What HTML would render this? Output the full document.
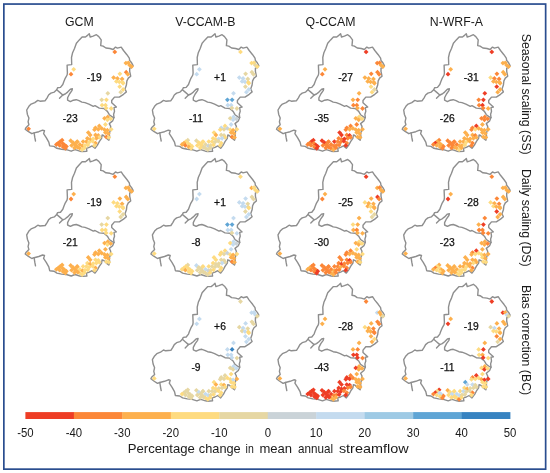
<!DOCTYPE html>
<html><head><meta charset="utf-8"><title>Percentage change in mean annual streamflow</title>
<style>
html,body{margin:0;padding:0;background:#fff;}
body{width:550px;height:473px;overflow:hidden;position:relative;font-family:"Liberation Sans",sans-serif;}
svg{position:absolute;left:0;top:0;display:block;}
text{font-family:"Liberation Sans",sans-serif;fill:#1a1a1a;}
.h{font-size:12.3px;text-anchor:middle;}
.n{font-size:10.3px;text-anchor:middle;fill:#111;stroke:#111;stroke-width:0.25;}
.t{font-size:12.1px;text-anchor:middle;}
.o{fill:none;stroke:#8e8e8e;stroke-width:1.4;stroke-linejoin:round;stroke-linecap:round;}
</style></head><body>
<svg width="550" height="473" viewBox="0 0 550 473">
<rect x="0" y="0" width="550" height="473" fill="#ffffff"/>
<rect x="3.85" y="4.05" width="541.8" height="465.1" fill="none" stroke="#2a4d8f" stroke-width="1.7"/>
<defs>
<g id="m">
<path class="o" d="M56.7,89.7 57.6,87.8 60.5,87.4 62.8,84.5 63.8,81.7 65.2,78.3 67.1,75.0 67.4,73.0 67.1,65.1 71.7,64.6 71.5,57.5 72.6,52.7 74.5,48.5 76.4,43.2 79.3,39.9 82.1,37.0 85.5,37.0 87.8,35.1 89.3,33.7 90.2,37.0 93.1,36.1 96.4,34.7 98.8,36.6 101.2,39.9 100.7,45.6 103.1,46.1 105.9,48.0 110.0,48.5 113.1,49.5 115.5,47.1 117.4,48.1 121.2,47.1 123.5,50.5 126.9,54.7 129.3,58.1 129.7,60.5 131.6,62.8 133.1,65.5 131.6,67.6 129.7,68.1 129.7,71.4 130.7,76.2 128.3,78.1 126.9,80.9 126.4,85.0 125.0,89.0 126.4,91.9 123.5,94.3 119.3,97.1 114.5,97.1 111.7,100.5 111.7,102.8 116.4,107.1 114.0,107.6 114.5,111.4 113.6,114.3 114.0,117.6 112.6,120.9 109.3,123.6 110.7,126.4 110.2,130.7 109.3,133.6 109.7,137.4 108.8,140.2 106.4,138.3 103.5,135.5 102.1,135.0 101.6,138.3 99.3,141.6 97.8,144.5 95.0,148.3 92.1,145.9 89.3,147.4 86.4,148.3 86.9,151.2 82.1,151.6 79.8,151.2 75.0,149.7 71.2,151.2 66.4,149.7 61.6,149.3 56.9,148.3 54.0,146.4 49.7,145.9 48.8,142.1 46.4,137.8 43.6,133.6 44.5,130.7 42.6,130.2 38.8,131.7 34.1,132.9 31.8,133.7 28.1,131.4 25.2,129.2 25.9,127.7 28.9,124.8 28.1,121.8 28.9,118.1 27.4,114.4 26.7,110.0 28.9,106.3 31.1,104.1 34.8,102.6 37.8,100.4 40.0,101.2 45.2,100.7 47.1,97.8 48.6,95.0 50.9,93.1 54.3,92.1Z"/>
<path class="o" d="M56.7,89.7 59.5,92.1 62.8,95.0 65.2,94.0 67.6,92.1 70.4,89.3 72.4,88.8 71.9,90.7 69.5,94.0 67.6,97.8 67.6,100.2 70.4,101.6 73.3,100.2 76.2,99.7 79.0,100.7 81.9,102.1 85.0,102.6 88.9,104.1 93.3,106.3 95.0,105.7 99.3,108.1 104.0,108.5 107.4,111.4 109.3,114.7 112.6,117.1 114.0,117.6"/>
<path class="o" d="M62.8,95.0 59.5,98.3"/>
<path class="o" d="M34.1,132.9 34.8,137.4 35.5,141.0"/>
</g>
<path id="d" d="M0,-2.4L2.4,0L0,2.4L-2.4,0Z"/>
<filter id="b" x="-5%" y="-5%" width="110%" height="110%"><feGaussianBlur stdDeviation="0.38"/></filter>
</defs>
<text class="h" x="79.3" y="26.4">GCM</text>
<text class="h" x="205.3" y="26.4">V-CCAM-B</text>
<text class="h" x="330.5" y="26.4">Q-CCAM</text>
<text class="h" x="456.4" y="26.4">N-WRF-A</text>
<text class="h" transform="translate(521.6,94.2) rotate(90)">Seasonal scaling (SS)</text>
<text class="h" transform="translate(521.6,217.8) rotate(90)">Daily scaling (DS)</text>
<text class="h" transform="translate(521.6,340.1) rotate(90)">Bias correction (BC)</text>
<g transform="translate(0.0,0.0)">
<g filter="url(#b)">
<use href="#m"/>
<use href="#d" x="114.8" y="51.9" fill="#fc8738"/>
<use href="#d" x="125.9" y="63.1" fill="#fdb04e"/>
<use href="#d" x="128.3" y="62.8" fill="#fdb04e"/>
<use href="#d" x="129.7" y="65.2" fill="#fdb04e"/>
<use href="#d" x="131.6" y="66.6" fill="#fdb04e"/>
<use href="#d" x="126.2" y="72.2" fill="#fc8738"/>
<use href="#d" x="127.8" y="74.3" fill="#fdb04e"/>
<use href="#d" x="119.9" y="73.8" fill="#fedb80"/>
<use href="#d" x="113.6" y="77.6" fill="#fdb04e"/>
<use href="#d" x="117.4" y="78.5" fill="#fdb04e"/>
<use href="#d" x="122.1" y="79" fill="#fdb04e"/>
<use href="#d" x="116.4" y="81.4" fill="#fedb80"/>
<use href="#d" x="119.3" y="81.9" fill="#fedb80"/>
<use href="#d" x="122.6" y="82.3" fill="#fedb80"/>
<use href="#d" x="123.1" y="83.3" fill="#fedb80"/>
<use href="#d" x="119.7" y="86.7" fill="#fedb80"/>
<use href="#d" x="123.1" y="89.5" fill="#fedb80"/>
<use href="#d" x="120.7" y="92.2" fill="#e6d7a3"/>
<use href="#d" x="107.8" y="93.3" fill="#e6d7a3"/>
<use href="#d" x="101.7" y="99.8" fill="#e6d7a3"/>
<use href="#d" x="106.4" y="99.8" fill="#fedb80"/>
<use href="#d" x="102.1" y="105.2" fill="#fedb80"/>
<use href="#d" x="105.5" y="105.2" fill="#fedb80"/>
<use href="#d" x="106.2" y="108.1" fill="#fedb80"/>
<use href="#d" x="111.2" y="108.5" fill="#fedb80"/>
<use href="#d" x="107.8" y="116.9" fill="#fdb04e"/>
<use href="#d" x="104.5" y="118.3" fill="#fdb04e"/>
<use href="#d" x="107.4" y="119.8" fill="#fedb80"/>
<use href="#d" x="110.7" y="118.8" fill="#fedb80"/>
<use href="#d" x="105.4" y="124.5" fill="#fedb80"/>
<use href="#d" x="99.3" y="125.9" fill="#fdb04e"/>
<use href="#d" x="95.5" y="127.8" fill="#fdb04e"/>
<use href="#d" x="94.5" y="129.7" fill="#fdb04e"/>
<use href="#d" x="98.3" y="129.3" fill="#fdb04e"/>
<use href="#d" x="101.6" y="128.3" fill="#fdb04e"/>
<use href="#d" x="104.5" y="129.7" fill="#fdb04e"/>
<use href="#d" x="107.4" y="130.2" fill="#fdb04e"/>
<use href="#d" x="111.2" y="129.3" fill="#fedb80"/>
<use href="#d" x="105.4" y="132.6" fill="#fdb04e"/>
<use href="#d" x="108.3" y="133.6" fill="#fdb04e"/>
<use href="#d" x="106.4" y="136.9" fill="#fc8738"/>
<use href="#d" x="108.8" y="137.4" fill="#fedb80"/>
<use href="#d" x="88.3" y="132.6" fill="#fdb04e"/>
<use href="#d" x="90.2" y="135" fill="#fdb04e"/>
<use href="#d" x="95.5" y="135" fill="#fdb04e"/>
<use href="#d" x="98.3" y="135.5" fill="#fdb04e"/>
<use href="#d" x="99.3" y="137.4" fill="#fedb80"/>
<use href="#d" x="96.4" y="138.3" fill="#fdb04e"/>
<use href="#d" x="87.4" y="138.3" fill="#fdb04e"/>
<use href="#d" x="90.2" y="139.3" fill="#fdb04e"/>
<use href="#d" x="93.1" y="138.8" fill="#fedb80"/>
<use href="#d" x="83.1" y="141.6" fill="#fdb04e"/>
<use href="#d" x="86.4" y="141.6" fill="#fdb04e"/>
<use href="#d" x="89.3" y="142.1" fill="#fedb80"/>
<use href="#d" x="92.6" y="141.2" fill="#fedb80"/>
<use href="#d" x="95.5" y="143.1" fill="#fdb04e"/>
<use href="#d" x="76.9" y="142.1" fill="#fdb04e"/>
<use href="#d" x="79.8" y="144.5" fill="#fdb04e"/>
<use href="#d" x="82.6" y="145.9" fill="#fdb04e"/>
<use href="#d" x="76.9" y="146.4" fill="#fdb04e"/>
<use href="#d" x="79.8" y="148.3" fill="#fdb04e"/>
<use href="#d" x="85" y="145.4" fill="#fedb80"/>
<use href="#d" x="87.8" y="145" fill="#fedb80"/>
<use href="#d" x="82.1" y="149.7" fill="#fedb80"/>
<use href="#d" x="84.5" y="147.8" fill="#fedb80"/>
<use href="#d" x="94.5" y="145.4" fill="#fedb80"/>
<use href="#d" x="62.1" y="140.2" fill="#fc8738"/>
<use href="#d" x="60.2" y="141.6" fill="#fc8738"/>
<use href="#d" x="58.3" y="143.1" fill="#fc8738"/>
<use href="#d" x="56.4" y="144.5" fill="#fc8738"/>
<use href="#d" x="59.7" y="145.4" fill="#fc8738"/>
<use href="#d" x="62.6" y="143.5" fill="#fc8738"/>
<use href="#d" x="64.5" y="145" fill="#fc8738"/>
<use href="#d" x="66.4" y="146.4" fill="#fc8738"/>
<use href="#d" x="63.1" y="146.9" fill="#fc8738"/>
<use href="#d" x="65.4" y="148.3" fill="#fc8738"/>
<use href="#d" x="70.7" y="140.7" fill="#fdb04e"/>
<use href="#d" x="73.1" y="142.6" fill="#fdb04e"/>
<use href="#d" x="71.6" y="145.4" fill="#fdb04e"/>
<use href="#d" x="75" y="144.5" fill="#fdb04e"/>
<use href="#d" x="77.3" y="141.6" fill="#fdb04e"/>
<use href="#d" x="77.8" y="147.4" fill="#fdb04e"/>
<use href="#d" x="74.5" y="147.8" fill="#fdb04e"/>
<use href="#d" x="28.6" y="128.8" fill="#fc8738"/>
<use href="#d" x="73.7" y="69.3" fill="#fedb80"/>
<use href="#d" x="71.0" y="74.2" fill="#fc8738"/>
</g>
<text class="n" x="94.3" y="80.8">-19</text>
<text class="n" x="70.3" y="121.5">-23</text>
</g>
<g transform="translate(125.7,0.0)">
<g filter="url(#b)">
<use href="#m"/>
<use href="#d" x="114.8" y="51.9" fill="#fedb80"/>
<use href="#d" x="125.9" y="63.1" fill="#fedb80"/>
<use href="#d" x="128.3" y="62.8" fill="#fedb80"/>
<use href="#d" x="129.7" y="65.2" fill="#e6d7a3"/>
<use href="#d" x="131.6" y="66.6" fill="#fedb80"/>
<use href="#d" x="126.2" y="72.2" fill="#e6d7a3"/>
<use href="#d" x="127.8" y="74.3" fill="#e6d7a3"/>
<use href="#d" x="119.9" y="73.8" fill="#e6d7a3"/>
<use href="#d" x="113.6" y="77.6" fill="#c4dbef"/>
<use href="#d" x="117.4" y="78.5" fill="#c4dbef"/>
<use href="#d" x="122.1" y="79" fill="#e6d7a3"/>
<use href="#d" x="116.4" y="81.4" fill="#c4dbef"/>
<use href="#d" x="119.3" y="81.9" fill="#c4dbef"/>
<use href="#d" x="122.6" y="82.3" fill="#fedb80"/>
<use href="#d" x="123.1" y="83.3" fill="#fedb80"/>
<use href="#d" x="119.7" y="86.7" fill="#e6d7a3"/>
<use href="#d" x="123.1" y="89.5" fill="#c4dbef"/>
<use href="#d" x="120.7" y="92.2" fill="#c4dbef"/>
<use href="#d" x="107.8" y="93.3" fill="#c4dbef"/>
<use href="#d" x="101.7" y="99.8" fill="#5fa5d5"/>
<use href="#d" x="106.4" y="99.8" fill="#5fa5d5"/>
<use href="#d" x="102.1" y="105.2" fill="#c4dbef"/>
<use href="#d" x="105.5" y="105.2" fill="#c4dbef"/>
<use href="#d" x="106.2" y="108.1" fill="#e6d7a3"/>
<use href="#d" x="111.2" y="108.5" fill="#e6d7a3"/>
<use href="#d" x="107.8" y="116.9" fill="#c4dbef"/>
<use href="#d" x="104.5" y="118.3" fill="#e6d7a3"/>
<use href="#d" x="107.4" y="119.8" fill="#c4dbef"/>
<use href="#d" x="110.7" y="118.8" fill="#cad3d8"/>
<use href="#d" x="105.4" y="124.5" fill="#c4dbef"/>
<use href="#d" x="99.3" y="125.9" fill="#fedb80"/>
<use href="#d" x="95.5" y="127.8" fill="#c4dbef"/>
<use href="#d" x="94.5" y="129.7" fill="#fedb80"/>
<use href="#d" x="98.3" y="129.3" fill="#e6d7a3"/>
<use href="#d" x="101.6" y="128.3" fill="#cad3d8"/>
<use href="#d" x="104.5" y="129.7" fill="#fedb80"/>
<use href="#d" x="107.4" y="130.2" fill="#fdb04e"/>
<use href="#d" x="111.2" y="129.3" fill="#fedb80"/>
<use href="#d" x="105.4" y="132.6" fill="#fdb04e"/>
<use href="#d" x="108.3" y="133.6" fill="#fdb04e"/>
<use href="#d" x="106.4" y="136.9" fill="#fc8738"/>
<use href="#d" x="108.8" y="137.4" fill="#fdb04e"/>
<use href="#d" x="88.3" y="132.6" fill="#fedb80"/>
<use href="#d" x="90.2" y="135" fill="#fdb04e"/>
<use href="#d" x="95.5" y="135" fill="#e6d7a3"/>
<use href="#d" x="98.3" y="135.5" fill="#e6d7a3"/>
<use href="#d" x="99.3" y="137.4" fill="#fedb80"/>
<use href="#d" x="96.4" y="138.3" fill="#c4dbef"/>
<use href="#d" x="87.4" y="138.3" fill="#fedb80"/>
<use href="#d" x="90.2" y="139.3" fill="#fedb80"/>
<use href="#d" x="93.1" y="138.8" fill="#c4dbef"/>
<use href="#d" x="83.1" y="141.6" fill="#fedb80"/>
<use href="#d" x="86.4" y="141.6" fill="#fedb80"/>
<use href="#d" x="89.3" y="142.1" fill="#e6d7a3"/>
<use href="#d" x="92.6" y="141.2" fill="#e6d7a3"/>
<use href="#d" x="95.5" y="143.1" fill="#fedb80"/>
<use href="#d" x="76.9" y="142.1" fill="#fedb80"/>
<use href="#d" x="79.8" y="144.5" fill="#e6d7a3"/>
<use href="#d" x="82.6" y="145.9" fill="#cad3d8"/>
<use href="#d" x="76.9" y="146.4" fill="#fedb80"/>
<use href="#d" x="79.8" y="148.3" fill="#e6d7a3"/>
<use href="#d" x="85" y="145.4" fill="#e6d7a3"/>
<use href="#d" x="87.8" y="145" fill="#fedb80"/>
<use href="#d" x="82.1" y="149.7" fill="#e6d7a3"/>
<use href="#d" x="84.5" y="147.8" fill="#e6d7a3"/>
<use href="#d" x="94.5" y="145.4" fill="#fedb80"/>
<use href="#d" x="62.1" y="140.2" fill="#e6d7a3"/>
<use href="#d" x="60.2" y="141.6" fill="#fedb80"/>
<use href="#d" x="58.3" y="143.1" fill="#fdb04e"/>
<use href="#d" x="56.4" y="144.5" fill="#fdb04e"/>
<use href="#d" x="59.7" y="145.4" fill="#fc8738"/>
<use href="#d" x="62.6" y="143.5" fill="#fedb80"/>
<use href="#d" x="64.5" y="145" fill="#fedb80"/>
<use href="#d" x="66.4" y="146.4" fill="#fedb80"/>
<use href="#d" x="63.1" y="146.9" fill="#fdb04e"/>
<use href="#d" x="65.4" y="148.3" fill="#fedb80"/>
<use href="#d" x="70.7" y="140.7" fill="#e6d7a3"/>
<use href="#d" x="73.1" y="142.6" fill="#fedb80"/>
<use href="#d" x="71.6" y="145.4" fill="#fedb80"/>
<use href="#d" x="75" y="144.5" fill="#fedb80"/>
<use href="#d" x="77.3" y="141.6" fill="#fedb80"/>
<use href="#d" x="77.8" y="147.4" fill="#e6d7a3"/>
<use href="#d" x="74.5" y="147.8" fill="#fedb80"/>
<use href="#d" x="28.6" y="128.8" fill="#fedb80"/>
<use href="#d" x="73.7" y="69.3" fill="#c4dbef"/>
<use href="#d" x="71.0" y="74.2" fill="#c4dbef"/>
</g>
<text class="n" x="94.3" y="80.8">+1</text>
<text class="n" x="70.3" y="121.5">-11</text>
</g>
<g transform="translate(251.3,0.0)">
<g filter="url(#b)">
<use href="#m"/>
<use href="#d" x="114.8" y="51.9" fill="#ee3d25"/>
<use href="#d" x="125.9" y="63.1" fill="#fc8738"/>
<use href="#d" x="128.3" y="62.8" fill="#fc8738"/>
<use href="#d" x="129.7" y="65.2" fill="#fdb04e"/>
<use href="#d" x="131.6" y="66.6" fill="#fdb04e"/>
<use href="#d" x="126.2" y="72.2" fill="#fc8738"/>
<use href="#d" x="127.8" y="74.3" fill="#fc8738"/>
<use href="#d" x="119.9" y="73.8" fill="#fc8738"/>
<use href="#d" x="113.6" y="77.6" fill="#fdb04e"/>
<use href="#d" x="117.4" y="78.5" fill="#fdb04e"/>
<use href="#d" x="122.1" y="79" fill="#fdb04e"/>
<use href="#d" x="116.4" y="81.4" fill="#fdb04e"/>
<use href="#d" x="119.3" y="81.9" fill="#fdb04e"/>
<use href="#d" x="122.6" y="82.3" fill="#fdb04e"/>
<use href="#d" x="123.1" y="83.3" fill="#fdb04e"/>
<use href="#d" x="119.7" y="86.7" fill="#fedb80"/>
<use href="#d" x="123.1" y="89.5" fill="#e6d7a3"/>
<use href="#d" x="120.7" y="92.2" fill="#fedb80"/>
<use href="#d" x="107.8" y="93.3" fill="#fdb04e"/>
<use href="#d" x="101.7" y="99.8" fill="#fdb04e"/>
<use href="#d" x="106.4" y="99.8" fill="#fc8738"/>
<use href="#d" x="102.1" y="105.2" fill="#fc8738"/>
<use href="#d" x="105.5" y="105.2" fill="#fc8738"/>
<use href="#d" x="106.2" y="108.1" fill="#fdb04e"/>
<use href="#d" x="111.2" y="108.5" fill="#fc8738"/>
<use href="#d" x="107.8" y="116.9" fill="#fedb80"/>
<use href="#d" x="104.5" y="118.3" fill="#fdb04e"/>
<use href="#d" x="107.4" y="119.8" fill="#fdb04e"/>
<use href="#d" x="110.7" y="118.8" fill="#fedb80"/>
<use href="#d" x="105.4" y="124.5" fill="#fc8738"/>
<use href="#d" x="99.3" y="125.9" fill="#fc8738"/>
<use href="#d" x="95.5" y="127.8" fill="#fc8738"/>
<use href="#d" x="94.5" y="129.7" fill="#fc8738"/>
<use href="#d" x="98.3" y="129.3" fill="#fdb04e"/>
<use href="#d" x="101.6" y="128.3" fill="#fdb04e"/>
<use href="#d" x="104.5" y="129.7" fill="#fdb04e"/>
<use href="#d" x="107.4" y="130.2" fill="#fdb04e"/>
<use href="#d" x="111.2" y="129.3" fill="#fdb04e"/>
<use href="#d" x="105.4" y="132.6" fill="#fdb04e"/>
<use href="#d" x="108.3" y="133.6" fill="#fdb04e"/>
<use href="#d" x="106.4" y="136.9" fill="#fdb04e"/>
<use href="#d" x="108.8" y="137.4" fill="#fdb04e"/>
<use href="#d" x="88.3" y="132.6" fill="#ee3d25"/>
<use href="#d" x="90.2" y="135" fill="#ee3d25"/>
<use href="#d" x="95.5" y="135" fill="#fc8738"/>
<use href="#d" x="98.3" y="135.5" fill="#ee3d25"/>
<use href="#d" x="99.3" y="137.4" fill="#fc8738"/>
<use href="#d" x="96.4" y="138.3" fill="#fc8738"/>
<use href="#d" x="87.4" y="138.3" fill="#fc8738"/>
<use href="#d" x="90.2" y="139.3" fill="#fc8738"/>
<use href="#d" x="93.1" y="138.8" fill="#ee3d25"/>
<use href="#d" x="83.1" y="141.6" fill="#ee3d25"/>
<use href="#d" x="86.4" y="141.6" fill="#fc8738"/>
<use href="#d" x="89.3" y="142.1" fill="#fc8738"/>
<use href="#d" x="92.6" y="141.2" fill="#ee3d25"/>
<use href="#d" x="95.5" y="143.1" fill="#fc8738"/>
<use href="#d" x="76.9" y="142.1" fill="#fc8738"/>
<use href="#d" x="79.8" y="144.5" fill="#fc8738"/>
<use href="#d" x="82.6" y="145.9" fill="#fc8738"/>
<use href="#d" x="76.9" y="146.4" fill="#fc8738"/>
<use href="#d" x="79.8" y="148.3" fill="#fc8738"/>
<use href="#d" x="85" y="145.4" fill="#fc8738"/>
<use href="#d" x="87.8" y="145" fill="#fc8738"/>
<use href="#d" x="82.1" y="149.7" fill="#fdb04e"/>
<use href="#d" x="84.5" y="147.8" fill="#fc8738"/>
<use href="#d" x="94.5" y="145.4" fill="#ee3d25"/>
<use href="#d" x="62.1" y="140.2" fill="#ee3d25"/>
<use href="#d" x="60.2" y="141.6" fill="#ee3d25"/>
<use href="#d" x="58.3" y="143.1" fill="#fc8738"/>
<use href="#d" x="56.4" y="144.5" fill="#fc8738"/>
<use href="#d" x="59.7" y="145.4" fill="#fc8738"/>
<use href="#d" x="62.6" y="143.5" fill="#fc8738"/>
<use href="#d" x="64.5" y="145" fill="#ee3d25"/>
<use href="#d" x="66.4" y="146.4" fill="#ee3d25"/>
<use href="#d" x="63.1" y="146.9" fill="#fc8738"/>
<use href="#d" x="65.4" y="148.3" fill="#ee3d25"/>
<use href="#d" x="70.7" y="140.7" fill="#ee3d25"/>
<use href="#d" x="73.1" y="142.6" fill="#ee3d25"/>
<use href="#d" x="71.6" y="145.4" fill="#fc8738"/>
<use href="#d" x="75" y="144.5" fill="#fc8738"/>
<use href="#d" x="77.3" y="141.6" fill="#fc8738"/>
<use href="#d" x="77.8" y="147.4" fill="#fc8738"/>
<use href="#d" x="74.5" y="147.8" fill="#fc8738"/>
<use href="#d" x="28.6" y="128.8" fill="#fdb04e"/>
<use href="#d" x="73.7" y="69.3" fill="#fdb04e"/>
<use href="#d" x="71.0" y="74.2" fill="#fc8738"/>
</g>
<text class="n" x="94.3" y="80.8">-27</text>
<text class="n" x="70.3" y="121.5">-35</text>
</g>
<g transform="translate(377.0,0.0)">
<g filter="url(#b)">
<use href="#m"/>
<use href="#d" x="114.8" y="51.9" fill="#ee3d25"/>
<use href="#d" x="125.9" y="63.1" fill="#fdb04e"/>
<use href="#d" x="128.3" y="62.8" fill="#fdb04e"/>
<use href="#d" x="129.7" y="65.2" fill="#fdb04e"/>
<use href="#d" x="131.6" y="66.6" fill="#fdb04e"/>
<use href="#d" x="126.2" y="72.2" fill="#fdb04e"/>
<use href="#d" x="127.8" y="74.3" fill="#fdb04e"/>
<use href="#d" x="119.9" y="73.8" fill="#fc8738"/>
<use href="#d" x="113.6" y="77.6" fill="#fedb80"/>
<use href="#d" x="117.4" y="78.5" fill="#fc8738"/>
<use href="#d" x="122.1" y="79" fill="#fc8738"/>
<use href="#d" x="116.4" y="81.4" fill="#fdb04e"/>
<use href="#d" x="119.3" y="81.9" fill="#fdb04e"/>
<use href="#d" x="122.6" y="82.3" fill="#fdb04e"/>
<use href="#d" x="123.1" y="83.3" fill="#fdb04e"/>
<use href="#d" x="119.7" y="86.7" fill="#ee3d25"/>
<use href="#d" x="123.1" y="89.5" fill="#fdb04e"/>
<use href="#d" x="120.7" y="92.2" fill="#fdb04e"/>
<use href="#d" x="107.8" y="93.3" fill="#ee3d25"/>
<use href="#d" x="101.7" y="99.8" fill="#fc8738"/>
<use href="#d" x="106.4" y="99.8" fill="#ee3d25"/>
<use href="#d" x="102.1" y="105.2" fill="#fc8738"/>
<use href="#d" x="105.5" y="105.2" fill="#ee3d25"/>
<use href="#d" x="106.2" y="108.1" fill="#fc8738"/>
<use href="#d" x="111.2" y="108.5" fill="#fdb04e"/>
<use href="#d" x="107.8" y="116.9" fill="#fc8738"/>
<use href="#d" x="104.5" y="118.3" fill="#fc8738"/>
<use href="#d" x="107.4" y="119.8" fill="#fc8738"/>
<use href="#d" x="110.7" y="118.8" fill="#fc8738"/>
<use href="#d" x="105.4" y="124.5" fill="#fdb04e"/>
<use href="#d" x="99.3" y="125.9" fill="#ee3d25"/>
<use href="#d" x="95.5" y="127.8" fill="#fc8738"/>
<use href="#d" x="94.5" y="129.7" fill="#fc8738"/>
<use href="#d" x="98.3" y="129.3" fill="#fedb80"/>
<use href="#d" x="101.6" y="128.3" fill="#fdb04e"/>
<use href="#d" x="104.5" y="129.7" fill="#fdb04e"/>
<use href="#d" x="107.4" y="130.2" fill="#fdb04e"/>
<use href="#d" x="111.2" y="129.3" fill="#fdb04e"/>
<use href="#d" x="105.4" y="132.6" fill="#fdb04e"/>
<use href="#d" x="108.3" y="133.6" fill="#fdb04e"/>
<use href="#d" x="106.4" y="136.9" fill="#fdb04e"/>
<use href="#d" x="108.8" y="137.4" fill="#fdb04e"/>
<use href="#d" x="88.3" y="132.6" fill="#fdb04e"/>
<use href="#d" x="90.2" y="135" fill="#fdb04e"/>
<use href="#d" x="95.5" y="135" fill="#fdb04e"/>
<use href="#d" x="98.3" y="135.5" fill="#fc8738"/>
<use href="#d" x="99.3" y="137.4" fill="#fdb04e"/>
<use href="#d" x="96.4" y="138.3" fill="#fdb04e"/>
<use href="#d" x="87.4" y="138.3" fill="#fdb04e"/>
<use href="#d" x="90.2" y="139.3" fill="#fdb04e"/>
<use href="#d" x="93.1" y="138.8" fill="#fdb04e"/>
<use href="#d" x="83.1" y="141.6" fill="#fdb04e"/>
<use href="#d" x="86.4" y="141.6" fill="#fdb04e"/>
<use href="#d" x="89.3" y="142.1" fill="#fedb80"/>
<use href="#d" x="92.6" y="141.2" fill="#fdb04e"/>
<use href="#d" x="95.5" y="143.1" fill="#fc8738"/>
<use href="#d" x="76.9" y="142.1" fill="#fc8738"/>
<use href="#d" x="79.8" y="144.5" fill="#fc8738"/>
<use href="#d" x="82.6" y="145.9" fill="#fdb04e"/>
<use href="#d" x="76.9" y="146.4" fill="#fc8738"/>
<use href="#d" x="79.8" y="148.3" fill="#fdb04e"/>
<use href="#d" x="85" y="145.4" fill="#fdb04e"/>
<use href="#d" x="87.8" y="145" fill="#fedb80"/>
<use href="#d" x="82.1" y="149.7" fill="#fedb80"/>
<use href="#d" x="84.5" y="147.8" fill="#fdb04e"/>
<use href="#d" x="94.5" y="145.4" fill="#fc8738"/>
<use href="#d" x="62.1" y="140.2" fill="#fc8738"/>
<use href="#d" x="60.2" y="141.6" fill="#fdb04e"/>
<use href="#d" x="58.3" y="143.1" fill="#ee3d25"/>
<use href="#d" x="56.4" y="144.5" fill="#fc8738"/>
<use href="#d" x="59.7" y="145.4" fill="#fdb04e"/>
<use href="#d" x="62.6" y="143.5" fill="#fdb04e"/>
<use href="#d" x="64.5" y="145" fill="#fdb04e"/>
<use href="#d" x="66.4" y="146.4" fill="#fc8738"/>
<use href="#d" x="63.1" y="146.9" fill="#fdb04e"/>
<use href="#d" x="65.4" y="148.3" fill="#fc8738"/>
<use href="#d" x="70.7" y="140.7" fill="#fc8738"/>
<use href="#d" x="73.1" y="142.6" fill="#fc8738"/>
<use href="#d" x="71.6" y="145.4" fill="#fc8738"/>
<use href="#d" x="75" y="144.5" fill="#fc8738"/>
<use href="#d" x="77.3" y="141.6" fill="#fc8738"/>
<use href="#d" x="77.8" y="147.4" fill="#fdb04e"/>
<use href="#d" x="74.5" y="147.8" fill="#fc8738"/>
<use href="#d" x="28.6" y="128.8" fill="#fdb04e"/>
<use href="#d" x="73.7" y="69.3" fill="#fdb04e"/>
<use href="#d" x="71.0" y="74.2" fill="#ee3d25"/>
</g>
<text class="n" x="94.3" y="80.8">-31</text>
<text class="n" x="70.3" y="121.5">-26</text>
</g>
<g transform="translate(0.0,124.8)">
<g filter="url(#b)">
<use href="#m"/>
<use href="#d" x="114.8" y="51.9" fill="#fc8738"/>
<use href="#d" x="125.9" y="63.1" fill="#fdb04e"/>
<use href="#d" x="128.3" y="62.8" fill="#fdb04e"/>
<use href="#d" x="129.7" y="65.2" fill="#fdb04e"/>
<use href="#d" x="131.6" y="66.6" fill="#fdb04e"/>
<use href="#d" x="126.2" y="72.2" fill="#fdb04e"/>
<use href="#d" x="127.8" y="74.3" fill="#fdb04e"/>
<use href="#d" x="119.9" y="73.8" fill="#fdb04e"/>
<use href="#d" x="113.6" y="77.6" fill="#fedb80"/>
<use href="#d" x="117.4" y="78.5" fill="#fedb80"/>
<use href="#d" x="122.1" y="79" fill="#fdb04e"/>
<use href="#d" x="116.4" y="81.4" fill="#fedb80"/>
<use href="#d" x="119.3" y="81.9" fill="#fedb80"/>
<use href="#d" x="122.6" y="82.3" fill="#fedb80"/>
<use href="#d" x="123.1" y="83.3" fill="#fedb80"/>
<use href="#d" x="119.7" y="86.7" fill="#fedb80"/>
<use href="#d" x="123.1" y="89.5" fill="#e6d7a3"/>
<use href="#d" x="120.7" y="92.2" fill="#e6d7a3"/>
<use href="#d" x="107.8" y="93.3" fill="#e6d7a3"/>
<use href="#d" x="101.7" y="99.8" fill="#e6d7a3"/>
<use href="#d" x="106.4" y="99.8" fill="#fedb80"/>
<use href="#d" x="102.1" y="105.2" fill="#fedb80"/>
<use href="#d" x="105.5" y="105.2" fill="#fedb80"/>
<use href="#d" x="106.2" y="108.1" fill="#fedb80"/>
<use href="#d" x="111.2" y="108.5" fill="#fedb80"/>
<use href="#d" x="107.8" y="116.9" fill="#fdb04e"/>
<use href="#d" x="104.5" y="118.3" fill="#fdb04e"/>
<use href="#d" x="107.4" y="119.8" fill="#fedb80"/>
<use href="#d" x="110.7" y="118.8" fill="#fdb04e"/>
<use href="#d" x="105.4" y="124.5" fill="#fdb04e"/>
<use href="#d" x="99.3" y="125.9" fill="#fdb04e"/>
<use href="#d" x="95.5" y="127.8" fill="#fdb04e"/>
<use href="#d" x="94.5" y="129.7" fill="#fdb04e"/>
<use href="#d" x="98.3" y="129.3" fill="#fdb04e"/>
<use href="#d" x="101.6" y="128.3" fill="#fdb04e"/>
<use href="#d" x="104.5" y="129.7" fill="#fdb04e"/>
<use href="#d" x="107.4" y="130.2" fill="#fdb04e"/>
<use href="#d" x="111.2" y="129.3" fill="#fedb80"/>
<use href="#d" x="105.4" y="132.6" fill="#fdb04e"/>
<use href="#d" x="108.3" y="133.6" fill="#fdb04e"/>
<use href="#d" x="106.4" y="136.9" fill="#fedb80"/>
<use href="#d" x="108.8" y="137.4" fill="#fedb80"/>
<use href="#d" x="88.3" y="132.6" fill="#fdb04e"/>
<use href="#d" x="90.2" y="135" fill="#fdb04e"/>
<use href="#d" x="95.5" y="135" fill="#fedb80"/>
<use href="#d" x="98.3" y="135.5" fill="#fedb80"/>
<use href="#d" x="99.3" y="137.4" fill="#fedb80"/>
<use href="#d" x="96.4" y="138.3" fill="#fedb80"/>
<use href="#d" x="87.4" y="138.3" fill="#fedb80"/>
<use href="#d" x="90.2" y="139.3" fill="#fdb04e"/>
<use href="#d" x="93.1" y="138.8" fill="#fedb80"/>
<use href="#d" x="83.1" y="141.6" fill="#fedb80"/>
<use href="#d" x="86.4" y="141.6" fill="#fedb80"/>
<use href="#d" x="89.3" y="142.1" fill="#fedb80"/>
<use href="#d" x="92.6" y="141.2" fill="#fedb80"/>
<use href="#d" x="95.5" y="143.1" fill="#fdb04e"/>
<use href="#d" x="76.9" y="142.1" fill="#fdb04e"/>
<use href="#d" x="79.8" y="144.5" fill="#fedb80"/>
<use href="#d" x="82.6" y="145.9" fill="#fdb04e"/>
<use href="#d" x="76.9" y="146.4" fill="#fdb04e"/>
<use href="#d" x="79.8" y="148.3" fill="#fedb80"/>
<use href="#d" x="85" y="145.4" fill="#fedb80"/>
<use href="#d" x="87.8" y="145" fill="#fedb80"/>
<use href="#d" x="82.1" y="149.7" fill="#fedb80"/>
<use href="#d" x="84.5" y="147.8" fill="#fedb80"/>
<use href="#d" x="94.5" y="145.4" fill="#fedb80"/>
<use href="#d" x="62.1" y="140.2" fill="#fdb04e"/>
<use href="#d" x="60.2" y="141.6" fill="#fdb04e"/>
<use href="#d" x="58.3" y="143.1" fill="#fdb04e"/>
<use href="#d" x="56.4" y="144.5" fill="#fdb04e"/>
<use href="#d" x="59.7" y="145.4" fill="#fdb04e"/>
<use href="#d" x="62.6" y="143.5" fill="#fdb04e"/>
<use href="#d" x="64.5" y="145" fill="#fdb04e"/>
<use href="#d" x="66.4" y="146.4" fill="#fdb04e"/>
<use href="#d" x="63.1" y="146.9" fill="#fdb04e"/>
<use href="#d" x="65.4" y="148.3" fill="#fdb04e"/>
<use href="#d" x="70.7" y="140.7" fill="#fdb04e"/>
<use href="#d" x="73.1" y="142.6" fill="#fdb04e"/>
<use href="#d" x="71.6" y="145.4" fill="#fdb04e"/>
<use href="#d" x="75" y="144.5" fill="#fdb04e"/>
<use href="#d" x="77.3" y="141.6" fill="#fdb04e"/>
<use href="#d" x="77.8" y="147.4" fill="#fdb04e"/>
<use href="#d" x="74.5" y="147.8" fill="#fdb04e"/>
<use href="#d" x="28.6" y="128.8" fill="#fdb04e"/>
<use href="#d" x="73.7" y="69.3" fill="#fdb04e"/>
<use href="#d" x="71.0" y="74.2" fill="#fc8738"/>
</g>
<text class="n" x="94.3" y="80.8">-19</text>
<text class="n" x="70.3" y="121.5">-21</text>
</g>
<g transform="translate(125.7,124.8)">
<g filter="url(#b)">
<use href="#m"/>
<use href="#d" x="114.8" y="51.9" fill="#fedb80"/>
<use href="#d" x="125.9" y="63.1" fill="#fdb04e"/>
<use href="#d" x="128.3" y="62.8" fill="#fedb80"/>
<use href="#d" x="129.7" y="65.2" fill="#fedb80"/>
<use href="#d" x="131.6" y="66.6" fill="#fedb80"/>
<use href="#d" x="126.2" y="72.2" fill="#e6d7a3"/>
<use href="#d" x="127.8" y="74.3" fill="#e6d7a3"/>
<use href="#d" x="119.9" y="73.8" fill="#c4dbef"/>
<use href="#d" x="113.6" y="77.6" fill="#c4dbef"/>
<use href="#d" x="117.4" y="78.5" fill="#c4dbef"/>
<use href="#d" x="122.1" y="79" fill="#e6d7a3"/>
<use href="#d" x="116.4" y="81.4" fill="#c4dbef"/>
<use href="#d" x="119.3" y="81.9" fill="#c4dbef"/>
<use href="#d" x="122.6" y="82.3" fill="#e6d7a3"/>
<use href="#d" x="123.1" y="83.3" fill="#fedb80"/>
<use href="#d" x="119.7" y="86.7" fill="#e6d7a3"/>
<use href="#d" x="123.1" y="89.5" fill="#c4dbef"/>
<use href="#d" x="120.7" y="92.2" fill="#c4dbef"/>
<use href="#d" x="107.8" y="93.3" fill="#c4dbef"/>
<use href="#d" x="101.7" y="99.8" fill="#5fa5d5"/>
<use href="#d" x="106.4" y="99.8" fill="#5fa5d5"/>
<use href="#d" x="102.1" y="105.2" fill="#c4dbef"/>
<use href="#d" x="105.5" y="105.2" fill="#c4dbef"/>
<use href="#d" x="106.2" y="108.1" fill="#e6d7a3"/>
<use href="#d" x="111.2" y="108.5" fill="#c4dbef"/>
<use href="#d" x="107.8" y="116.9" fill="#c4dbef"/>
<use href="#d" x="104.5" y="118.3" fill="#fedb80"/>
<use href="#d" x="107.4" y="119.8" fill="#c4dbef"/>
<use href="#d" x="110.7" y="118.8" fill="#cad3d8"/>
<use href="#d" x="105.4" y="124.5" fill="#c4dbef"/>
<use href="#d" x="99.3" y="125.9" fill="#fedb80"/>
<use href="#d" x="95.5" y="127.8" fill="#fedb80"/>
<use href="#d" x="94.5" y="129.7" fill="#fedb80"/>
<use href="#d" x="98.3" y="129.3" fill="#e6d7a3"/>
<use href="#d" x="101.6" y="128.3" fill="#cad3d8"/>
<use href="#d" x="104.5" y="129.7" fill="#fedb80"/>
<use href="#d" x="107.4" y="130.2" fill="#fdb04e"/>
<use href="#d" x="111.2" y="129.3" fill="#fedb80"/>
<use href="#d" x="105.4" y="132.6" fill="#fdb04e"/>
<use href="#d" x="108.3" y="133.6" fill="#fdb04e"/>
<use href="#d" x="106.4" y="136.9" fill="#fc8738"/>
<use href="#d" x="108.8" y="137.4" fill="#fdb04e"/>
<use href="#d" x="88.3" y="132.6" fill="#fedb80"/>
<use href="#d" x="90.2" y="135" fill="#fedb80"/>
<use href="#d" x="95.5" y="135" fill="#e6d7a3"/>
<use href="#d" x="98.3" y="135.5" fill="#e6d7a3"/>
<use href="#d" x="99.3" y="137.4" fill="#e6d7a3"/>
<use href="#d" x="96.4" y="138.3" fill="#c4dbef"/>
<use href="#d" x="87.4" y="138.3" fill="#fedb80"/>
<use href="#d" x="90.2" y="139.3" fill="#e6d7a3"/>
<use href="#d" x="93.1" y="138.8" fill="#e6d7a3"/>
<use href="#d" x="83.1" y="141.6" fill="#fedb80"/>
<use href="#d" x="86.4" y="141.6" fill="#e6d7a3"/>
<use href="#d" x="89.3" y="142.1" fill="#e6d7a3"/>
<use href="#d" x="92.6" y="141.2" fill="#e6d7a3"/>
<use href="#d" x="95.5" y="143.1" fill="#fedb80"/>
<use href="#d" x="76.9" y="142.1" fill="#e6d7a3"/>
<use href="#d" x="79.8" y="144.5" fill="#c4dbef"/>
<use href="#d" x="82.6" y="145.9" fill="#cad3d8"/>
<use href="#d" x="76.9" y="146.4" fill="#e6d7a3"/>
<use href="#d" x="79.8" y="148.3" fill="#e6d7a3"/>
<use href="#d" x="85" y="145.4" fill="#e6d7a3"/>
<use href="#d" x="87.8" y="145" fill="#fedb80"/>
<use href="#d" x="82.1" y="149.7" fill="#e6d7a3"/>
<use href="#d" x="84.5" y="147.8" fill="#fedb80"/>
<use href="#d" x="94.5" y="145.4" fill="#fedb80"/>
<use href="#d" x="62.1" y="140.2" fill="#e6d7a3"/>
<use href="#d" x="60.2" y="141.6" fill="#fedb80"/>
<use href="#d" x="58.3" y="143.1" fill="#fedb80"/>
<use href="#d" x="56.4" y="144.5" fill="#fedb80"/>
<use href="#d" x="59.7" y="145.4" fill="#fdb04e"/>
<use href="#d" x="62.6" y="143.5" fill="#fedb80"/>
<use href="#d" x="64.5" y="145" fill="#fedb80"/>
<use href="#d" x="66.4" y="146.4" fill="#fedb80"/>
<use href="#d" x="63.1" y="146.9" fill="#fedb80"/>
<use href="#d" x="65.4" y="148.3" fill="#fedb80"/>
<use href="#d" x="70.7" y="140.7" fill="#c4dbef"/>
<use href="#d" x="73.1" y="142.6" fill="#e6d7a3"/>
<use href="#d" x="71.6" y="145.4" fill="#e6d7a3"/>
<use href="#d" x="75" y="144.5" fill="#e6d7a3"/>
<use href="#d" x="77.3" y="141.6" fill="#fedb80"/>
<use href="#d" x="77.8" y="147.4" fill="#e6d7a3"/>
<use href="#d" x="74.5" y="147.8" fill="#e6d7a3"/>
<use href="#d" x="28.6" y="128.8" fill="#fedb80"/>
<use href="#d" x="73.7" y="69.3" fill="#c4dbef"/>
<use href="#d" x="71.0" y="74.2" fill="#c4dbef"/>
</g>
<text class="n" x="94.3" y="80.8">+1</text>
<text class="n" x="70.3" y="121.5">-8</text>
</g>
<g transform="translate(251.3,124.8)">
<g filter="url(#b)">
<use href="#m"/>
<use href="#d" x="114.8" y="51.9" fill="#ee3d25"/>
<use href="#d" x="125.9" y="63.1" fill="#fdb04e"/>
<use href="#d" x="128.3" y="62.8" fill="#fc8738"/>
<use href="#d" x="129.7" y="65.2" fill="#fdb04e"/>
<use href="#d" x="131.6" y="66.6" fill="#fdb04e"/>
<use href="#d" x="126.2" y="72.2" fill="#ee3d25"/>
<use href="#d" x="127.8" y="74.3" fill="#fc8738"/>
<use href="#d" x="119.9" y="73.8" fill="#fdb04e"/>
<use href="#d" x="113.6" y="77.6" fill="#fedb80"/>
<use href="#d" x="117.4" y="78.5" fill="#fdb04e"/>
<use href="#d" x="122.1" y="79" fill="#fdb04e"/>
<use href="#d" x="116.4" y="81.4" fill="#fdb04e"/>
<use href="#d" x="119.3" y="81.9" fill="#fedb80"/>
<use href="#d" x="122.6" y="82.3" fill="#fdb04e"/>
<use href="#d" x="123.1" y="83.3" fill="#fdb04e"/>
<use href="#d" x="119.7" y="86.7" fill="#fedb80"/>
<use href="#d" x="123.1" y="89.5" fill="#e6d7a3"/>
<use href="#d" x="120.7" y="92.2" fill="#e6d7a3"/>
<use href="#d" x="107.8" y="93.3" fill="#fdb04e"/>
<use href="#d" x="101.7" y="99.8" fill="#fedb80"/>
<use href="#d" x="106.4" y="99.8" fill="#fdb04e"/>
<use href="#d" x="102.1" y="105.2" fill="#fdb04e"/>
<use href="#d" x="105.5" y="105.2" fill="#fc8738"/>
<use href="#d" x="106.2" y="108.1" fill="#fdb04e"/>
<use href="#d" x="111.2" y="108.5" fill="#fdb04e"/>
<use href="#d" x="107.8" y="116.9" fill="#fedb80"/>
<use href="#d" x="104.5" y="118.3" fill="#fdb04e"/>
<use href="#d" x="107.4" y="119.8" fill="#fdb04e"/>
<use href="#d" x="110.7" y="118.8" fill="#fedb80"/>
<use href="#d" x="105.4" y="124.5" fill="#fedb80"/>
<use href="#d" x="99.3" y="125.9" fill="#fc8738"/>
<use href="#d" x="95.5" y="127.8" fill="#fc8738"/>
<use href="#d" x="94.5" y="129.7" fill="#fc8738"/>
<use href="#d" x="98.3" y="129.3" fill="#fdb04e"/>
<use href="#d" x="101.6" y="128.3" fill="#fdb04e"/>
<use href="#d" x="104.5" y="129.7" fill="#fdb04e"/>
<use href="#d" x="107.4" y="130.2" fill="#fdb04e"/>
<use href="#d" x="111.2" y="129.3" fill="#fedb80"/>
<use href="#d" x="105.4" y="132.6" fill="#fdb04e"/>
<use href="#d" x="108.3" y="133.6" fill="#fdb04e"/>
<use href="#d" x="106.4" y="136.9" fill="#fdb04e"/>
<use href="#d" x="108.8" y="137.4" fill="#fedb80"/>
<use href="#d" x="88.3" y="132.6" fill="#fc8738"/>
<use href="#d" x="90.2" y="135" fill="#fc8738"/>
<use href="#d" x="95.5" y="135" fill="#fc8738"/>
<use href="#d" x="98.3" y="135.5" fill="#ee3d25"/>
<use href="#d" x="99.3" y="137.4" fill="#fc8738"/>
<use href="#d" x="96.4" y="138.3" fill="#fc8738"/>
<use href="#d" x="87.4" y="138.3" fill="#fc8738"/>
<use href="#d" x="90.2" y="139.3" fill="#ee3d25"/>
<use href="#d" x="93.1" y="138.8" fill="#fc8738"/>
<use href="#d" x="83.1" y="141.6" fill="#fc8738"/>
<use href="#d" x="86.4" y="141.6" fill="#fc8738"/>
<use href="#d" x="89.3" y="142.1" fill="#fdb04e"/>
<use href="#d" x="92.6" y="141.2" fill="#fc8738"/>
<use href="#d" x="95.5" y="143.1" fill="#fc8738"/>
<use href="#d" x="76.9" y="142.1" fill="#fc8738"/>
<use href="#d" x="79.8" y="144.5" fill="#fc8738"/>
<use href="#d" x="82.6" y="145.9" fill="#fdb04e"/>
<use href="#d" x="76.9" y="146.4" fill="#fc8738"/>
<use href="#d" x="79.8" y="148.3" fill="#fdb04e"/>
<use href="#d" x="85" y="145.4" fill="#fc8738"/>
<use href="#d" x="87.8" y="145" fill="#fc8738"/>
<use href="#d" x="82.1" y="149.7" fill="#fdb04e"/>
<use href="#d" x="84.5" y="147.8" fill="#fc8738"/>
<use href="#d" x="94.5" y="145.4" fill="#ee3d25"/>
<use href="#d" x="62.1" y="140.2" fill="#fc8738"/>
<use href="#d" x="60.2" y="141.6" fill="#fc8738"/>
<use href="#d" x="58.3" y="143.1" fill="#fdb04e"/>
<use href="#d" x="56.4" y="144.5" fill="#fdb04e"/>
<use href="#d" x="59.7" y="145.4" fill="#fc8738"/>
<use href="#d" x="62.6" y="143.5" fill="#fc8738"/>
<use href="#d" x="64.5" y="145" fill="#fc8738"/>
<use href="#d" x="66.4" y="146.4" fill="#ee3d25"/>
<use href="#d" x="63.1" y="146.9" fill="#fc8738"/>
<use href="#d" x="65.4" y="148.3" fill="#ee3d25"/>
<use href="#d" x="70.7" y="140.7" fill="#fc8738"/>
<use href="#d" x="73.1" y="142.6" fill="#fc8738"/>
<use href="#d" x="71.6" y="145.4" fill="#fc8738"/>
<use href="#d" x="75" y="144.5" fill="#fc8738"/>
<use href="#d" x="77.3" y="141.6" fill="#fc8738"/>
<use href="#d" x="77.8" y="147.4" fill="#fc8738"/>
<use href="#d" x="74.5" y="147.8" fill="#fc8738"/>
<use href="#d" x="28.6" y="128.8" fill="#fdb04e"/>
<use href="#d" x="73.7" y="69.3" fill="#fdb04e"/>
<use href="#d" x="71.0" y="74.2" fill="#fc8738"/>
</g>
<text class="n" x="94.3" y="80.8">-25</text>
<text class="n" x="70.3" y="121.5">-30</text>
</g>
<g transform="translate(377.0,124.8)">
<g filter="url(#b)">
<use href="#m"/>
<use href="#d" x="114.8" y="51.9" fill="#fc8738"/>
<use href="#d" x="125.9" y="63.1" fill="#fdb04e"/>
<use href="#d" x="128.3" y="62.8" fill="#fdb04e"/>
<use href="#d" x="129.7" y="65.2" fill="#fdb04e"/>
<use href="#d" x="131.6" y="66.6" fill="#fdb04e"/>
<use href="#d" x="126.2" y="72.2" fill="#fdb04e"/>
<use href="#d" x="127.8" y="74.3" fill="#fdb04e"/>
<use href="#d" x="119.9" y="73.8" fill="#fc8738"/>
<use href="#d" x="113.6" y="77.6" fill="#fedb80"/>
<use href="#d" x="117.4" y="78.5" fill="#fdb04e"/>
<use href="#d" x="122.1" y="79" fill="#fc8738"/>
<use href="#d" x="116.4" y="81.4" fill="#fedb80"/>
<use href="#d" x="119.3" y="81.9" fill="#fdb04e"/>
<use href="#d" x="122.6" y="82.3" fill="#fdb04e"/>
<use href="#d" x="123.1" y="83.3" fill="#fdb04e"/>
<use href="#d" x="119.7" y="86.7" fill="#ee3d25"/>
<use href="#d" x="123.1" y="89.5" fill="#fdb04e"/>
<use href="#d" x="120.7" y="92.2" fill="#fdb04e"/>
<use href="#d" x="107.8" y="93.3" fill="#fc8738"/>
<use href="#d" x="101.7" y="99.8" fill="#fdb04e"/>
<use href="#d" x="106.4" y="99.8" fill="#ee3d25"/>
<use href="#d" x="102.1" y="105.2" fill="#fc8738"/>
<use href="#d" x="105.5" y="105.2" fill="#fc8738"/>
<use href="#d" x="106.2" y="108.1" fill="#fc8738"/>
<use href="#d" x="111.2" y="108.5" fill="#fc8738"/>
<use href="#d" x="107.8" y="116.9" fill="#fdb04e"/>
<use href="#d" x="104.5" y="118.3" fill="#fdb04e"/>
<use href="#d" x="107.4" y="119.8" fill="#fdb04e"/>
<use href="#d" x="110.7" y="118.8" fill="#fc8738"/>
<use href="#d" x="105.4" y="124.5" fill="#fdb04e"/>
<use href="#d" x="99.3" y="125.9" fill="#ee3d25"/>
<use href="#d" x="95.5" y="127.8" fill="#fc8738"/>
<use href="#d" x="94.5" y="129.7" fill="#fdb04e"/>
<use href="#d" x="98.3" y="129.3" fill="#fedb80"/>
<use href="#d" x="101.6" y="128.3" fill="#fedb80"/>
<use href="#d" x="104.5" y="129.7" fill="#fedb80"/>
<use href="#d" x="107.4" y="130.2" fill="#fdb04e"/>
<use href="#d" x="111.2" y="129.3" fill="#fdb04e"/>
<use href="#d" x="105.4" y="132.6" fill="#fedb80"/>
<use href="#d" x="108.3" y="133.6" fill="#fdb04e"/>
<use href="#d" x="106.4" y="136.9" fill="#fedb80"/>
<use href="#d" x="108.8" y="137.4" fill="#fedb80"/>
<use href="#d" x="88.3" y="132.6" fill="#fdb04e"/>
<use href="#d" x="90.2" y="135" fill="#fdb04e"/>
<use href="#d" x="95.5" y="135" fill="#fdb04e"/>
<use href="#d" x="98.3" y="135.5" fill="#fdb04e"/>
<use href="#d" x="99.3" y="137.4" fill="#fdb04e"/>
<use href="#d" x="96.4" y="138.3" fill="#fedb80"/>
<use href="#d" x="87.4" y="138.3" fill="#fdb04e"/>
<use href="#d" x="90.2" y="139.3" fill="#fdb04e"/>
<use href="#d" x="93.1" y="138.8" fill="#fdb04e"/>
<use href="#d" x="83.1" y="141.6" fill="#fdb04e"/>
<use href="#d" x="86.4" y="141.6" fill="#fdb04e"/>
<use href="#d" x="89.3" y="142.1" fill="#fedb80"/>
<use href="#d" x="92.6" y="141.2" fill="#fdb04e"/>
<use href="#d" x="95.5" y="143.1" fill="#fc8738"/>
<use href="#d" x="76.9" y="142.1" fill="#fdb04e"/>
<use href="#d" x="79.8" y="144.5" fill="#fdb04e"/>
<use href="#d" x="82.6" y="145.9" fill="#fedb80"/>
<use href="#d" x="76.9" y="146.4" fill="#fdb04e"/>
<use href="#d" x="79.8" y="148.3" fill="#fedb80"/>
<use href="#d" x="85" y="145.4" fill="#fedb80"/>
<use href="#d" x="87.8" y="145" fill="#fedb80"/>
<use href="#d" x="82.1" y="149.7" fill="#fedb80"/>
<use href="#d" x="84.5" y="147.8" fill="#fedb80"/>
<use href="#d" x="94.5" y="145.4" fill="#fdb04e"/>
<use href="#d" x="62.1" y="140.2" fill="#fdb04e"/>
<use href="#d" x="60.2" y="141.6" fill="#fedb80"/>
<use href="#d" x="58.3" y="143.1" fill="#fc8738"/>
<use href="#d" x="56.4" y="144.5" fill="#fdb04e"/>
<use href="#d" x="59.7" y="145.4" fill="#fedb80"/>
<use href="#d" x="62.6" y="143.5" fill="#fedb80"/>
<use href="#d" x="64.5" y="145" fill="#fdb04e"/>
<use href="#d" x="66.4" y="146.4" fill="#fdb04e"/>
<use href="#d" x="63.1" y="146.9" fill="#fedb80"/>
<use href="#d" x="65.4" y="148.3" fill="#fdb04e"/>
<use href="#d" x="70.7" y="140.7" fill="#fdb04e"/>
<use href="#d" x="73.1" y="142.6" fill="#fdb04e"/>
<use href="#d" x="71.6" y="145.4" fill="#fdb04e"/>
<use href="#d" x="75" y="144.5" fill="#fdb04e"/>
<use href="#d" x="77.3" y="141.6" fill="#fdb04e"/>
<use href="#d" x="77.8" y="147.4" fill="#fdb04e"/>
<use href="#d" x="74.5" y="147.8" fill="#fdb04e"/>
<use href="#d" x="28.6" y="128.8" fill="#fdb04e"/>
<use href="#d" x="73.7" y="69.3" fill="#fdb04e"/>
<use href="#d" x="71.0" y="74.2" fill="#ee3d25"/>
</g>
<text class="n" x="94.3" y="80.8">-28</text>
<text class="n" x="70.3" y="121.5">-23</text>
</g>
<g transform="translate(125.7,249.6)">
<g filter="url(#b)">
<use href="#m"/>
<use href="#d" x="114.8" y="51.9" fill="#e6d7a3"/>
<use href="#d" x="125.9" y="63.1" fill="#c4dbef"/>
<use href="#d" x="128.3" y="62.8" fill="#c4dbef"/>
<use href="#d" x="129.7" y="65.2" fill="#c4dbef"/>
<use href="#d" x="131.6" y="66.6" fill="#e6d7a3"/>
<use href="#d" x="126.2" y="72.2" fill="#e6d7a3"/>
<use href="#d" x="127.8" y="74.3" fill="#e6d7a3"/>
<use href="#d" x="119.9" y="73.8" fill="#c4dbef"/>
<use href="#d" x="113.6" y="77.6" fill="#e6d7a3"/>
<use href="#d" x="117.4" y="78.5" fill="#c4dbef"/>
<use href="#d" x="122.1" y="79" fill="#e6d7a3"/>
<use href="#d" x="116.4" y="81.4" fill="#e6d7a3"/>
<use href="#d" x="119.3" y="81.9" fill="#c4dbef"/>
<use href="#d" x="122.6" y="82.3" fill="#fedb80"/>
<use href="#d" x="123.1" y="83.3" fill="#fedb80"/>
<use href="#d" x="119.7" y="86.7" fill="#c4dbef"/>
<use href="#d" x="123.1" y="89.5" fill="#c4dbef"/>
<use href="#d" x="120.7" y="92.2" fill="#c4dbef"/>
<use href="#d" x="107.8" y="93.3" fill="#c4dbef"/>
<use href="#d" x="101.7" y="99.8" fill="#c4dbef"/>
<use href="#d" x="106.4" y="99.8" fill="#3783c1"/>
<use href="#d" x="102.1" y="105.2" fill="#c4dbef"/>
<use href="#d" x="105.5" y="105.2" fill="#c4dbef"/>
<use href="#d" x="106.2" y="108.1" fill="#c4dbef"/>
<use href="#d" x="111.2" y="108.5" fill="#e6d7a3"/>
<use href="#d" x="107.8" y="116.9" fill="#c4dbef"/>
<use href="#d" x="104.5" y="118.3" fill="#e6d7a3"/>
<use href="#d" x="107.4" y="119.8" fill="#e6d7a3"/>
<use href="#d" x="110.7" y="118.8" fill="#c4dbef"/>
<use href="#d" x="105.4" y="124.5" fill="#fedb80"/>
<use href="#d" x="99.3" y="125.9" fill="#e6d7a3"/>
<use href="#d" x="95.5" y="127.8" fill="#e6d7a3"/>
<use href="#d" x="94.5" y="129.7" fill="#e6d7a3"/>
<use href="#d" x="98.3" y="129.3" fill="#e6d7a3"/>
<use href="#d" x="101.6" y="128.3" fill="#fedb80"/>
<use href="#d" x="104.5" y="129.7" fill="#fedb80"/>
<use href="#d" x="107.4" y="130.2" fill="#c4dbef"/>
<use href="#d" x="111.2" y="129.3" fill="#fdb04e"/>
<use href="#d" x="105.4" y="132.6" fill="#fedb80"/>
<use href="#d" x="108.3" y="133.6" fill="#fedb80"/>
<use href="#d" x="106.4" y="136.9" fill="#fedb80"/>
<use href="#d" x="108.8" y="137.4" fill="#fedb80"/>
<use href="#d" x="88.3" y="132.6" fill="#fedb80"/>
<use href="#d" x="90.2" y="135" fill="#fdb04e"/>
<use href="#d" x="95.5" y="135" fill="#fedb80"/>
<use href="#d" x="98.3" y="135.5" fill="#fdb04e"/>
<use href="#d" x="99.3" y="137.4" fill="#fedb80"/>
<use href="#d" x="96.4" y="138.3" fill="#e6d7a3"/>
<use href="#d" x="87.4" y="138.3" fill="#fedb80"/>
<use href="#d" x="90.2" y="139.3" fill="#fedb80"/>
<use href="#d" x="93.1" y="138.8" fill="#e6d7a3"/>
<use href="#d" x="83.1" y="141.6" fill="#e6d7a3"/>
<use href="#d" x="86.4" y="141.6" fill="#e6d7a3"/>
<use href="#d" x="89.3" y="142.1" fill="#e6d7a3"/>
<use href="#d" x="92.6" y="141.2" fill="#fedb80"/>
<use href="#d" x="95.5" y="143.1" fill="#fedb80"/>
<use href="#d" x="76.9" y="142.1" fill="#e6d7a3"/>
<use href="#d" x="79.8" y="144.5" fill="#c4dbef"/>
<use href="#d" x="82.6" y="145.9" fill="#c4dbef"/>
<use href="#d" x="76.9" y="146.4" fill="#e6d7a3"/>
<use href="#d" x="79.8" y="148.3" fill="#fedb80"/>
<use href="#d" x="85" y="145.4" fill="#e6d7a3"/>
<use href="#d" x="87.8" y="145" fill="#fedb80"/>
<use href="#d" x="82.1" y="149.7" fill="#fedb80"/>
<use href="#d" x="84.5" y="147.8" fill="#fedb80"/>
<use href="#d" x="94.5" y="145.4" fill="#fedb80"/>
<use href="#d" x="62.1" y="140.2" fill="#e6d7a3"/>
<use href="#d" x="60.2" y="141.6" fill="#e6d7a3"/>
<use href="#d" x="58.3" y="143.1" fill="#e6d7a3"/>
<use href="#d" x="56.4" y="144.5" fill="#fedb80"/>
<use href="#d" x="59.7" y="145.4" fill="#e6d7a3"/>
<use href="#d" x="62.6" y="143.5" fill="#e6d7a3"/>
<use href="#d" x="64.5" y="145" fill="#e6d7a3"/>
<use href="#d" x="66.4" y="146.4" fill="#e6d7a3"/>
<use href="#d" x="63.1" y="146.9" fill="#e6d7a3"/>
<use href="#d" x="65.4" y="148.3" fill="#e6d7a3"/>
<use href="#d" x="70.7" y="140.7" fill="#e6d7a3"/>
<use href="#d" x="73.1" y="142.6" fill="#c4dbef"/>
<use href="#d" x="71.6" y="145.4" fill="#e6d7a3"/>
<use href="#d" x="75" y="144.5" fill="#e6d7a3"/>
<use href="#d" x="77.3" y="141.6" fill="#e6d7a3"/>
<use href="#d" x="77.8" y="147.4" fill="#e6d7a3"/>
<use href="#d" x="74.5" y="147.8" fill="#e6d7a3"/>
<use href="#d" x="28.6" y="128.8" fill="#fedb80"/>
<use href="#d" x="73.7" y="69.3" fill="#c4dbef"/>
<use href="#d" x="71.0" y="74.2" fill="#c4dbef"/>
</g>
<text class="n" x="94.3" y="80.8">+6</text>
<text class="n" x="70.3" y="121.5">-9</text>
</g>
<g transform="translate(251.3,249.6)">
<g filter="url(#b)">
<use href="#m"/>
<use href="#d" x="114.8" y="51.9" fill="#fc8738"/>
<use href="#d" x="125.9" y="63.1" fill="#c4dbef"/>
<use href="#d" x="128.3" y="62.8" fill="#fdb04e"/>
<use href="#d" x="129.7" y="65.2" fill="#fdb04e"/>
<use href="#d" x="131.6" y="66.6" fill="#e6d7a3"/>
<use href="#d" x="126.2" y="72.2" fill="#fc8738"/>
<use href="#d" x="127.8" y="74.3" fill="#fc8738"/>
<use href="#d" x="119.9" y="73.8" fill="#fdb04e"/>
<use href="#d" x="113.6" y="77.6" fill="#fedb80"/>
<use href="#d" x="117.4" y="78.5" fill="#fdb04e"/>
<use href="#d" x="122.1" y="79" fill="#fc8738"/>
<use href="#d" x="116.4" y="81.4" fill="#fdb04e"/>
<use href="#d" x="119.3" y="81.9" fill="#fdb04e"/>
<use href="#d" x="122.6" y="82.3" fill="#fc8738"/>
<use href="#d" x="123.1" y="83.3" fill="#fc8738"/>
<use href="#d" x="119.7" y="86.7" fill="#fdb04e"/>
<use href="#d" x="123.1" y="89.5" fill="#fedb80"/>
<use href="#d" x="120.7" y="92.2" fill="#fdb04e"/>
<use href="#d" x="107.8" y="93.3" fill="#fdb04e"/>
<use href="#d" x="101.7" y="99.8" fill="#fdb04e"/>
<use href="#d" x="106.4" y="99.8" fill="#fc8738"/>
<use href="#d" x="102.1" y="105.2" fill="#ee3d25"/>
<use href="#d" x="105.5" y="105.2" fill="#ee3d25"/>
<use href="#d" x="106.2" y="108.1" fill="#ee3d25"/>
<use href="#d" x="111.2" y="108.5" fill="#fc8738"/>
<use href="#d" x="107.8" y="116.9" fill="#fdb04e"/>
<use href="#d" x="104.5" y="118.3" fill="#ee3d25"/>
<use href="#d" x="107.4" y="119.8" fill="#fdb04e"/>
<use href="#d" x="110.7" y="118.8" fill="#fdb04e"/>
<use href="#d" x="105.4" y="124.5" fill="#fdb04e"/>
<use href="#d" x="99.3" y="125.9" fill="#fc8738"/>
<use href="#d" x="95.5" y="127.8" fill="#ee3d25"/>
<use href="#d" x="94.5" y="129.7" fill="#ee3d25"/>
<use href="#d" x="98.3" y="129.3" fill="#ee3d25"/>
<use href="#d" x="101.6" y="128.3" fill="#fc8738"/>
<use href="#d" x="104.5" y="129.7" fill="#fdb04e"/>
<use href="#d" x="107.4" y="130.2" fill="#fdb04e"/>
<use href="#d" x="111.2" y="129.3" fill="#fdb04e"/>
<use href="#d" x="105.4" y="132.6" fill="#fdb04e"/>
<use href="#d" x="108.3" y="133.6" fill="#fdb04e"/>
<use href="#d" x="106.4" y="136.9" fill="#fdb04e"/>
<use href="#d" x="108.8" y="137.4" fill="#fdb04e"/>
<use href="#d" x="88.3" y="132.6" fill="#ee3d25"/>
<use href="#d" x="90.2" y="135" fill="#ee3d25"/>
<use href="#d" x="95.5" y="135" fill="#ee3d25"/>
<use href="#d" x="98.3" y="135.5" fill="#ee3d25"/>
<use href="#d" x="99.3" y="137.4" fill="#fc8738"/>
<use href="#d" x="96.4" y="138.3" fill="#fc8738"/>
<use href="#d" x="87.4" y="138.3" fill="#ee3d25"/>
<use href="#d" x="90.2" y="139.3" fill="#ee3d25"/>
<use href="#d" x="93.1" y="138.8" fill="#ee3d25"/>
<use href="#d" x="83.1" y="141.6" fill="#ee3d25"/>
<use href="#d" x="86.4" y="141.6" fill="#ee3d25"/>
<use href="#d" x="89.3" y="142.1" fill="#ee3d25"/>
<use href="#d" x="92.6" y="141.2" fill="#fc8738"/>
<use href="#d" x="95.5" y="143.1" fill="#fc8738"/>
<use href="#d" x="76.9" y="142.1" fill="#ee3d25"/>
<use href="#d" x="79.8" y="144.5" fill="#ee3d25"/>
<use href="#d" x="82.6" y="145.9" fill="#fc8738"/>
<use href="#d" x="76.9" y="146.4" fill="#ee3d25"/>
<use href="#d" x="79.8" y="148.3" fill="#fdb04e"/>
<use href="#d" x="85" y="145.4" fill="#fc8738"/>
<use href="#d" x="87.8" y="145" fill="#ee3d25"/>
<use href="#d" x="82.1" y="149.7" fill="#fdb04e"/>
<use href="#d" x="84.5" y="147.8" fill="#fdb04e"/>
<use href="#d" x="94.5" y="145.4" fill="#ee3d25"/>
<use href="#d" x="62.1" y="140.2" fill="#ee3d25"/>
<use href="#d" x="60.2" y="141.6" fill="#ee3d25"/>
<use href="#d" x="58.3" y="143.1" fill="#ee3d25"/>
<use href="#d" x="56.4" y="144.5" fill="#ee3d25"/>
<use href="#d" x="59.7" y="145.4" fill="#ee3d25"/>
<use href="#d" x="62.6" y="143.5" fill="#ee3d25"/>
<use href="#d" x="64.5" y="145" fill="#ee3d25"/>
<use href="#d" x="66.4" y="146.4" fill="#ee3d25"/>
<use href="#d" x="63.1" y="146.9" fill="#ee3d25"/>
<use href="#d" x="65.4" y="148.3" fill="#ee3d25"/>
<use href="#d" x="70.7" y="140.7" fill="#ee3d25"/>
<use href="#d" x="73.1" y="142.6" fill="#ee3d25"/>
<use href="#d" x="71.6" y="145.4" fill="#ee3d25"/>
<use href="#d" x="75" y="144.5" fill="#ee3d25"/>
<use href="#d" x="77.3" y="141.6" fill="#ee3d25"/>
<use href="#d" x="77.8" y="147.4" fill="#ee3d25"/>
<use href="#d" x="74.5" y="147.8" fill="#ee3d25"/>
<use href="#d" x="28.6" y="128.8" fill="#fdb04e"/>
<use href="#d" x="73.7" y="69.3" fill="#fdb04e"/>
<use href="#d" x="71.0" y="74.2" fill="#fdb04e"/>
</g>
<text class="n" x="94.3" y="80.8">-28</text>
<text class="n" x="70.3" y="121.5">-43</text>
</g>
<g transform="translate(377.0,249.6)">
<g filter="url(#b)">
<use href="#m"/>
<use href="#d" x="114.8" y="51.9" fill="#ee3d25"/>
<use href="#d" x="125.9" y="63.1" fill="#ee3d25"/>
<use href="#d" x="128.3" y="62.8" fill="#fdb04e"/>
<use href="#d" x="129.7" y="65.2" fill="#c4dbef"/>
<use href="#d" x="131.6" y="66.6" fill="#e6d7a3"/>
<use href="#d" x="126.2" y="72.2" fill="#fdb04e"/>
<use href="#d" x="127.8" y="74.3" fill="#fdb04e"/>
<use href="#d" x="119.9" y="73.8" fill="#fdb04e"/>
<use href="#d" x="113.6" y="77.6" fill="#e6d7a3"/>
<use href="#d" x="117.4" y="78.5" fill="#c4dbef"/>
<use href="#d" x="122.1" y="79" fill="#fdb04e"/>
<use href="#d" x="116.4" y="81.4" fill="#fedb80"/>
<use href="#d" x="119.3" y="81.9" fill="#fedb80"/>
<use href="#d" x="122.6" y="82.3" fill="#fedb80"/>
<use href="#d" x="123.1" y="83.3" fill="#fdb04e"/>
<use href="#d" x="119.7" y="86.7" fill="#fc8738"/>
<use href="#d" x="123.1" y="89.5" fill="#fdb04e"/>
<use href="#d" x="120.7" y="92.2" fill="#e6d7a3"/>
<use href="#d" x="107.8" y="93.3" fill="#fdb04e"/>
<use href="#d" x="101.7" y="99.8" fill="#fedb80"/>
<use href="#d" x="106.4" y="99.8" fill="#ee3d25"/>
<use href="#d" x="102.1" y="105.2" fill="#fedb80"/>
<use href="#d" x="105.5" y="105.2" fill="#fdb04e"/>
<use href="#d" x="106.2" y="108.1" fill="#ee3d25"/>
<use href="#d" x="111.2" y="108.5" fill="#fedb80"/>
<use href="#d" x="107.8" y="116.9" fill="#fdb04e"/>
<use href="#d" x="104.5" y="118.3" fill="#fedb80"/>
<use href="#d" x="107.4" y="119.8" fill="#ee3d25"/>
<use href="#d" x="110.7" y="118.8" fill="#fedb80"/>
<use href="#d" x="105.4" y="124.5" fill="#fedb80"/>
<use href="#d" x="99.3" y="125.9" fill="#ee3d25"/>
<use href="#d" x="95.5" y="127.8" fill="#fc8738"/>
<use href="#d" x="94.5" y="129.7" fill="#fedb80"/>
<use href="#d" x="98.3" y="129.3" fill="#fedb80"/>
<use href="#d" x="101.6" y="128.3" fill="#fedb80"/>
<use href="#d" x="104.5" y="129.7" fill="#fdb04e"/>
<use href="#d" x="107.4" y="130.2" fill="#ee3d25"/>
<use href="#d" x="111.2" y="129.3" fill="#ee3d25"/>
<use href="#d" x="105.4" y="132.6" fill="#fedb80"/>
<use href="#d" x="108.3" y="133.6" fill="#fedb80"/>
<use href="#d" x="106.4" y="136.9" fill="#fedb80"/>
<use href="#d" x="108.8" y="137.4" fill="#fedb80"/>
<use href="#d" x="88.3" y="132.6" fill="#5fa5d5"/>
<use href="#d" x="90.2" y="135" fill="#c4dbef"/>
<use href="#d" x="95.5" y="135" fill="#c4dbef"/>
<use href="#d" x="98.3" y="135.5" fill="#e6d7a3"/>
<use href="#d" x="99.3" y="137.4" fill="#e6d7a3"/>
<use href="#d" x="96.4" y="138.3" fill="#e6d7a3"/>
<use href="#d" x="87.4" y="138.3" fill="#fedb80"/>
<use href="#d" x="90.2" y="139.3" fill="#fdb04e"/>
<use href="#d" x="93.1" y="138.8" fill="#e6d7a3"/>
<use href="#d" x="83.1" y="141.6" fill="#fedb80"/>
<use href="#d" x="86.4" y="141.6" fill="#c4dbef"/>
<use href="#d" x="89.3" y="142.1" fill="#e6d7a3"/>
<use href="#d" x="92.6" y="141.2" fill="#e6d7a3"/>
<use href="#d" x="95.5" y="143.1" fill="#fc8738"/>
<use href="#d" x="76.9" y="142.1" fill="#fedb80"/>
<use href="#d" x="79.8" y="144.5" fill="#c4dbef"/>
<use href="#d" x="82.6" y="145.9" fill="#c4dbef"/>
<use href="#d" x="76.9" y="146.4" fill="#fedb80"/>
<use href="#d" x="79.8" y="148.3" fill="#fedb80"/>
<use href="#d" x="85" y="145.4" fill="#e6d7a3"/>
<use href="#d" x="87.8" y="145" fill="#e6d7a3"/>
<use href="#d" x="82.1" y="149.7" fill="#fc8738"/>
<use href="#d" x="84.5" y="147.8" fill="#fedb80"/>
<use href="#d" x="94.5" y="145.4" fill="#fedb80"/>
<use href="#d" x="62.1" y="140.2" fill="#ee3d25"/>
<use href="#d" x="60.2" y="141.6" fill="#fedb80"/>
<use href="#d" x="58.3" y="143.1" fill="#ee3d25"/>
<use href="#d" x="56.4" y="144.5" fill="#fc8738"/>
<use href="#d" x="59.7" y="145.4" fill="#fedb80"/>
<use href="#d" x="62.6" y="143.5" fill="#c4dbef"/>
<use href="#d" x="64.5" y="145" fill="#c4dbef"/>
<use href="#d" x="66.4" y="146.4" fill="#fc8738"/>
<use href="#d" x="63.1" y="146.9" fill="#fedb80"/>
<use href="#d" x="65.4" y="148.3" fill="#fc8738"/>
<use href="#d" x="70.7" y="140.7" fill="#fdb04e"/>
<use href="#d" x="73.1" y="142.6" fill="#fedb80"/>
<use href="#d" x="71.6" y="145.4" fill="#fedb80"/>
<use href="#d" x="75" y="144.5" fill="#c4dbef"/>
<use href="#d" x="77.3" y="141.6" fill="#fedb80"/>
<use href="#d" x="77.8" y="147.4" fill="#fedb80"/>
<use href="#d" x="74.5" y="147.8" fill="#fedb80"/>
<use href="#d" x="28.6" y="128.8" fill="#fdb04e"/>
<use href="#d" x="73.7" y="69.3" fill="#fdb04e"/>
<use href="#d" x="71.0" y="74.2" fill="#ee3d25"/>
</g>
<text class="n" x="94.3" y="80.8">-19</text>
<text class="n" x="70.3" y="121.5">-11</text>
</g>
<rect x="25.40" y="412.1" width="48.77" height="6.9" fill="#ee3d25"/>
<rect x="73.87" y="412.1" width="48.77" height="6.9" fill="#fc8738"/>
<rect x="122.34" y="412.1" width="48.77" height="6.9" fill="#fdb04e"/>
<rect x="170.81" y="412.1" width="48.77" height="6.9" fill="#fedb80"/>
<rect x="219.28" y="412.1" width="48.77" height="6.9" fill="#e6d7a3"/>
<rect x="267.75" y="412.1" width="48.77" height="6.9" fill="#cad3d8"/>
<rect x="316.22" y="412.1" width="48.77" height="6.9" fill="#c4dbef"/>
<rect x="364.69" y="412.1" width="48.77" height="6.9" fill="#9ecae5"/>
<rect x="413.16" y="412.1" width="48.77" height="6.9" fill="#5fa5d5"/>
<rect x="461.63" y="412.1" width="48.77" height="6.9" fill="#3783c1"/>
<text class="t" transform="translate(25.4,437) scale(0.94,1)">-50</text>
<text class="t" transform="translate(73.9,437) scale(0.94,1)">-40</text>
<text class="t" transform="translate(122.3,437) scale(0.94,1)">-30</text>
<text class="t" transform="translate(170.8,437) scale(0.94,1)">-20</text>
<text class="t" transform="translate(219.3,437) scale(0.94,1)">-10</text>
<text class="t" transform="translate(267.8,437) scale(0.94,1)">0</text>
<text class="t" transform="translate(316.2,437) scale(0.94,1)">10</text>
<text class="t" transform="translate(364.7,437) scale(0.94,1)">20</text>
<text class="t" transform="translate(413.2,437) scale(0.94,1)">30</text>
<text class="t" transform="translate(461.6,437) scale(0.94,1)">40</text>
<text class="t" transform="translate(510.1,437) scale(0.94,1)">50</text>
<text y="453.4" style="font-size:13.6px"><tspan x="127.8" textLength="67.1" lengthAdjust="spacingAndGlyphs">Percentage</tspan> <tspan x="198.8" textLength="41.9" lengthAdjust="spacingAndGlyphs">change</tspan> <tspan x="245.6" textLength="8.2" lengthAdjust="spacingAndGlyphs">in</tspan> <tspan x="259.4" textLength="32.7" lengthAdjust="spacingAndGlyphs">mean</tspan> <tspan x="298" textLength="35.0" lengthAdjust="spacingAndGlyphs">annual</tspan> <tspan x="338.9" textLength="69.7" lengthAdjust="spacingAndGlyphs">streamflow</tspan></text>
</svg></body></html>
